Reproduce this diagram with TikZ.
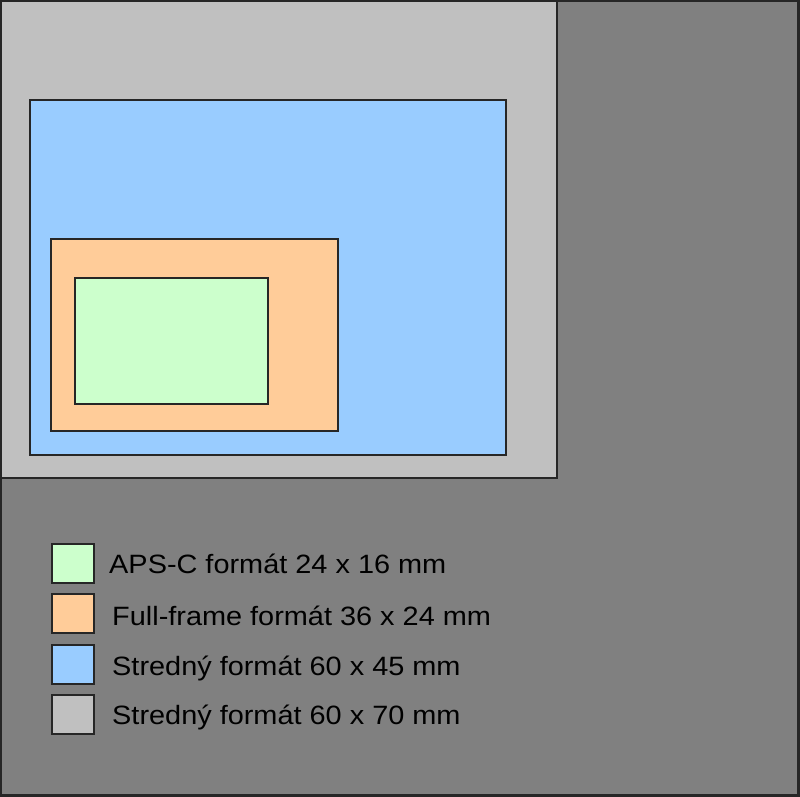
\documentclass[tikz,border=0pt]{standalone}
\usepackage{fontspec}
\setmainfont{Liberation Sans}
\usepackage{xcolor}
\usetikzlibrary{positioning}
\definecolor{bgdark}{HTML}{808080}
\definecolor{midgray}{HTML}{C0C0C0}
\definecolor{mediumblue}{HTML}{99CCFF}
\definecolor{fullorange}{HTML}{FFCC99}
\definecolor{apsgreen}{HTML}{CCFFCC}
\tikzset{
    frame/.style={draw=black!85, line width=2pt},
    swatch/.style={frame, minimum width=42pt, minimum height=39pt, inner sep=0pt},
    legendtext/.style={font=\fontsize{26.5}{30}\selectfont, anchor=base west, inner sep=0pt, xscale=1.09, transform shape}
}

\begin{document}
\begin{tikzpicture}[x=1pt, y=-1pt]
    \useasboundingbox (0,0) rectangle (800,797);
    % sensor frames
    \draw[frame, fill=bgdark, line width=2.5pt] (1,1) rectangle (798.5,795.5);
    \draw[frame, fill=midgray] (1,1) rectangle (557,478);
    \draw[frame, fill=mediumblue] (30,100) rectangle (506,455);
    \draw[frame, fill=fullorange] (51,239) rectangle (338,431);
    \draw[frame, fill=apsgreen] (75,278) rectangle (268,404);

    % legend
    \node [swatch, fill=apsgreen] (aps_box) at (72.5,563) {};
    \node [swatch, fill=fullorange] (full_box) at (72.5,613.5) {};
    \node [swatch, fill=mediumblue] (medium_box) at (72.5,664.5) {};
    \node [swatch, fill=midgray] (large_box) at (72.5,714) {};

    \node [legendtext] (aps_label) at (109,573) {APS-C formát 24 x 16 mm};
    \node [legendtext] (full_label) at (112,625) {Full-frame formát 36 x 24 mm};
    \node [legendtext] (medium_label) at (112,675) {Stredný formát 60 x 45 mm};
    \node [legendtext] (large_label) at (112,724) {Stredný formát 60 x 70 mm};
\end{tikzpicture}
\end{document}
